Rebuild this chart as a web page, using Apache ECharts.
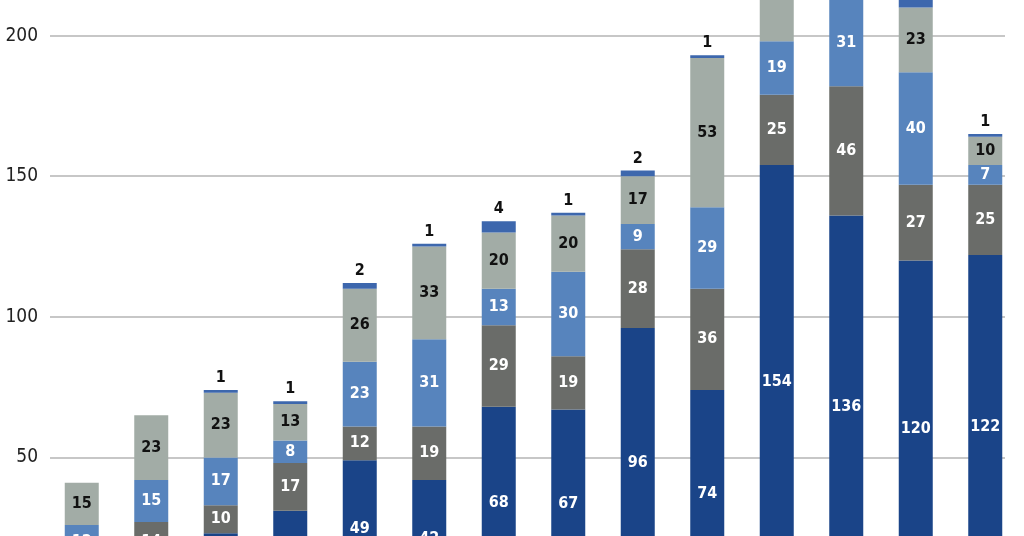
<!DOCTYPE html>
<html>
<head>
<meta charset="utf-8">
<script src="https://cdn.jsdelivr.net/npm/echarts@6/dist/echarts.min.js"></script>
<style>
html,body{margin:0;padding:0;background:#fff;overflow:hidden;width:1024px;height:536px}
#c{position:absolute;left:0;top:-105px;width:1024px;height:703px}
</style>
</head>
<body>
<div id="c"></div>
<script>
var categories = ['1','2','3','4','5','6','7','8','9','10','11','12','13','14'];
var darkBlue  = [6, 13, 23, 31, 49, 42, 68, 67, 96, 74, 154, 136, 120, 122];
var darkGray  = [8, 14, 10, 17, 12, 19, 29, 19, 28, 36, 25, 46, 27, 25];
var midBlue   = [12, 15, 17, 8, 23, 31, 13, 30, 9, 29, 19, 31, 40, 7];
var lightGray = [15, 23, 23, 13, 26, 33, 20, 20, 17, 53, 40, 20, 23, 10];
var topBlue   = [null, null, 1, 1, 2, 1, 4, 1, 2, 1, 2, 2, 3, 1];
var yTicks = [0, 50, 100, 150, 200, 250];

var FONT = '"DejaVu Sans Condensed", "Liberation Sans", sans-serif';
var chart = echarts.init(document.getElementById('c'), null, {renderer: 'canvas'});

function seg(name, data, color, labelColor, pos) {
  return {
    name: name, type: 'bar', stack: 'total', data: data,
    xAxisIndex: 0, yAxisIndex: 0, barWidth: 34,
    itemStyle: {color: color},
    label: {
      show: true, position: pos || 'inside', distance: 4,
      color: labelColor, fontFamily: FONT, fontWeight: 'bold', fontSize: 16
    },
    emphasis: {disabled: true}
  };
}

var yMin = yTicks[0], yMax = yTicks[yTicks.length - 1];
chart.setOption({
  animation: false,
  grid: [
    {left: 47, right: 4, top: 0, bottom: 0, containLabel: false, outerBoundsMode: 'none'},
    {left: 50, right: 19, top: 0, bottom: 0, containLabel: false, outerBoundsMode: 'none'}
  ],
  xAxis: [
    {type: 'category', gridIndex: 0, data: categories, axisLine: {show: false}, axisTick: {show: false}, axisLabel: {show: false}},
    {type: 'category', gridIndex: 1, data: categories, show: false}
  ],
  yAxis: [
    {type: 'value', gridIndex: 0, min: yMin, max: yMax, interval: 50, show: false, splitLine: {show: false}},
    {type: 'value', gridIndex: 1, min: yMin, max: yMax, interval: 50,
     axisLine: {show: false}, axisTick: {show: false},
     axisLabel: {color: '#222', fontFamily: FONT, fontSize: 19, margin: 12},
     splitLine: {lineStyle: {color: '#b4b4b4', width: 1.5}}}
  ],
  series: [
    seg('s1', darkBlue, '#1a4488', '#ffffff'),
    seg('s2', darkGray, '#6a6c69', '#ffffff'),
    seg('s3', midBlue, '#5784bd', '#ffffff'),
    seg('s4', lightGray, '#a2aca6', '#111111'),
    seg('s5', topBlue, '#3d67ad', '#111111', 'top')
  ]
});
</script>
</body>
</html>
